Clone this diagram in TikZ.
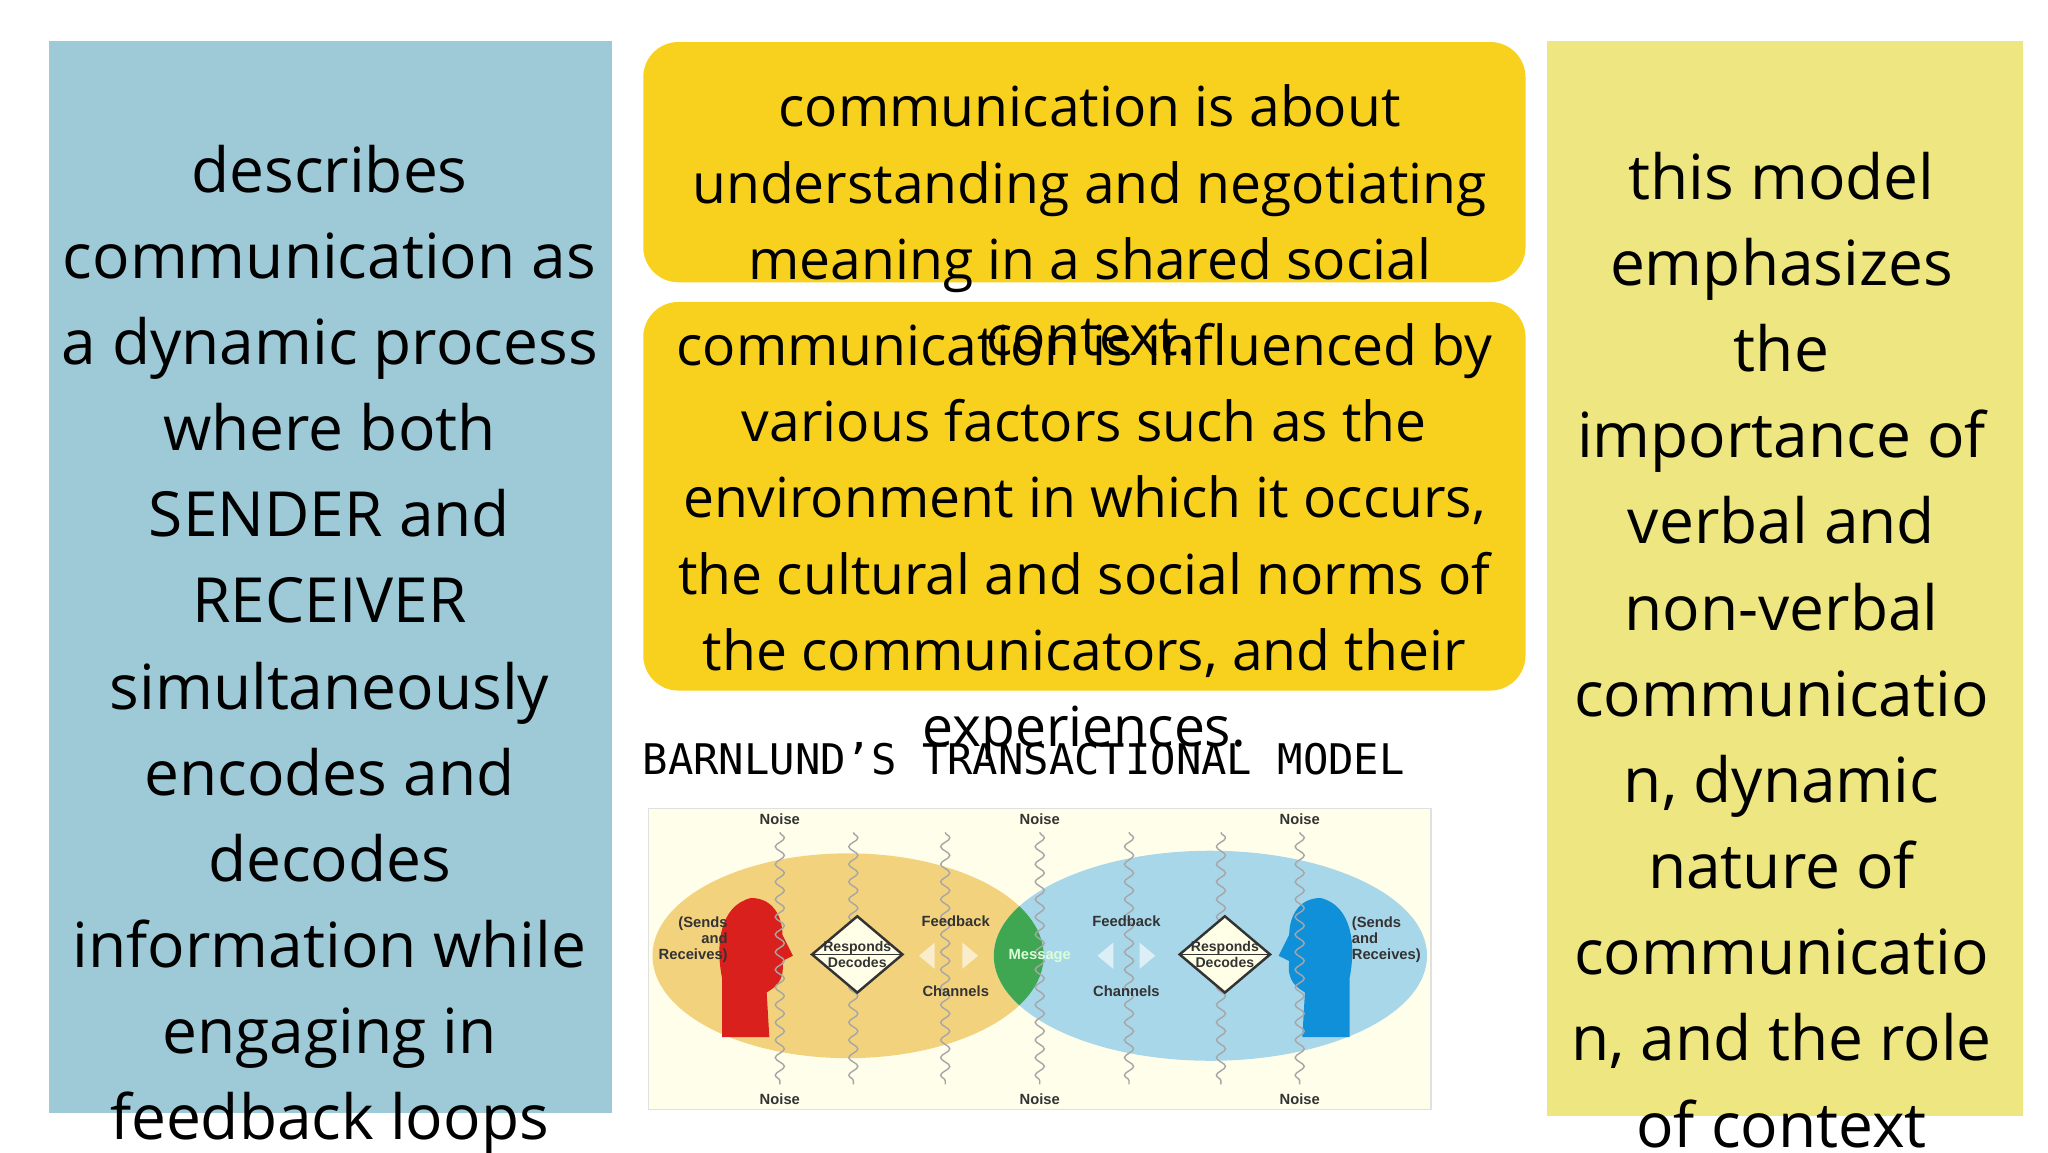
\documentclass[tikz,border=0pt]{standalone}
\usepackage{fontspec}
\setmainfont{Open Sans}
\newfontfamily\titlefont{DejaVu Sans Mono}
\newfontfamily\smallf{Liberation Sans}
\usetikzlibrary{decorations.pathmorphing,shapes.geometric}
\definecolor{lblue}{HTML}{9ECAD7}
\definecolor{lyel}{HTML}{EEE680}
\definecolor{gold}{HTML}{F8D11E}
\definecolor{ell1}{HTML}{F3D27E}
\definecolor{ell2}{HTML}{A9D7EA}
\definecolor{grn}{HTML}{3FA652}
\definecolor{redh}{HTML}{D9201C}
\definecolor{blueh}{HTML}{1090D8}
\begin{document}
\begin{tikzpicture}[x=0.013128cm,y=-0.013128cm,
  bigtxt/.style={align=center,font=\fontsize{17.7}{24.5}\selectfont,text=black},
  midtxt/.style={align=center,font=\fontsize{15.7}{21.7}\selectfont,text=black},
  tiny/.style={font=\smallf\bfseries\fontsize{4.2}{4.6}\selectfont,text=black!80,align=center,inner sep=0.5pt},
  noise/.style={draw=black!35,line width=0.4pt,decorate,decoration={snake,amplitude=1.3pt,segment length=5pt}},
  dia/.style={diamond,draw=black!80,line width=0.7pt,fill=white!90!yellow,inner sep=0pt,minimum width=26pt,minimum height=22pt}]
\useasboundingbox (0,0) rectangle (1560,877.5);
\fill[white] (0,0) rectangle (1560,877.5);
% left and right panels
\fill[lblue] (37,31) rectangle (466,848);
\fill[lyel] (1178,31) rectangle (1541,850);
\node[bigtxt] (lt) at (251,495) {describes\\communication as\\a dynamic process\\where both\\SENDER and\\RECEIVER\\simultaneously\\encodes and\\decodes\\information while\\engaging in\\feedback loops};
\node[bigtxt] (rt) at (1357,495) {this model\\emphasizes\\the\\importance of\\verbal and\\non-verbal\\communicatio\\n, dynamic\\nature of\\communicatio\\n, and the role\\of context};
% middle boxes
\fill[gold,rounded corners=10] (490,32) rectangle (1162,215);
\fill[gold,rounded corners=10] (490,230) rectangle (1162,526);
\node[midtxt] (t1) at (830,168) {communication is about\\understanding and negotiating\\meaning in a shared social\\context.};
\node[midtxt] (t2) at (826,412.5) {communication is influenced by\\various factors such as the\\environment in which it occurs,\\the cultural and social norms of\\the communicators, and their\\experiences.};
\node[font=\titlefont\fontsize{12}{14}\selectfont,anchor=west,inner sep=0pt] (title) at (489,578) {BARNLUND’S TRANSACTIONAL MODEL};
% model picture
\fill[white!92!yellow] (494,616) rectangle (1090,845);
\draw[black!12] (494,616) rectangle (1090,845);
\fill[ell1] (646,728) ellipse [x radius=149,y radius=78];
\fill[ell2] (922,728) ellipse [x radius=165,y radius=80];
\begin{scope}
\clip (646,728) ellipse [x radius=149,y radius=78];
\fill[grn] (922,728) ellipse [x radius=165,y radius=80];
\end{scope}
% heads (profiles)
\fill[redh] (550,790) -- (550,745) .. controls (545,720) and (548,690) .. (572,684) .. controls (590,684) and (596,700) .. (596,712) -- (604,728) -- (596,732) .. controls (598,748) and (590,752) .. (584,756) -- (586,790) -- cycle;
\fill[blueh] (1028,790) -- (1028,745) .. controls (1033,720) and (1030,690) .. (1006,684) .. controls (988,684) and (982,700) .. (982,712) -- (974,728) -- (982,732) .. controls (980,748) and (988,752) .. (994,756) -- (992,790) -- cycle;
% noise lines
\foreach \x in {594,650,720,792,860,930,990}{
  \draw[noise] (\x,634) -- (\x,826);}
\foreach \x/\n in {594/a,792/b,990/c}{
  \node[tiny] (nt\n) at (\x,624) {Noise};
  \node[tiny] (nb\n) at (\x,837) {Noise};}
\node[dia] (d1) at (653,727) {};
\node[dia] (d2) at (933,727) {};
\draw[black!80,line width=0.5pt] (d1.west) -- (d1.east) (d2.west) -- (d2.east);
\node[tiny,font=\smallf\bfseries\fontsize{4}{4.3}\selectfont] (r1) at (653,727) {Responds\\[0.5pt]Decodes};
\node[tiny,font=\smallf\bfseries\fontsize{4}{4.3}\selectfont] (r2) at (933,727) {Responds\\[0.5pt]Decodes};
\node[tiny,align=right] (s1) at (528,716) {(Sends\\and\\Receives)};
\node[tiny,align=left] (s2) at (1056,716) {(Sends\\and\\Receives)};
\node[tiny] (f1) at (728,702) {Feedback};
\node[tiny] (c1) at (728,755) {Channels};
\node[tiny] (f2) at (858,702) {Feedback};
\node[tiny] (c2) at (858,755) {Channels};
\node[tiny,text=white!85!green] (msg) at (792,728) {Message};
\fill[white,opacity=0.6] (700,728) -- (712,718) -- (712,738) -- cycle (745,728) -- (733,718) -- (733,738) -- cycle;
\fill[white,opacity=0.6] (836,728) -- (848,718) -- (848,738) -- cycle (880,728) -- (868,718) -- (868,738) -- cycle;
\end{tikzpicture}
\end{document}
